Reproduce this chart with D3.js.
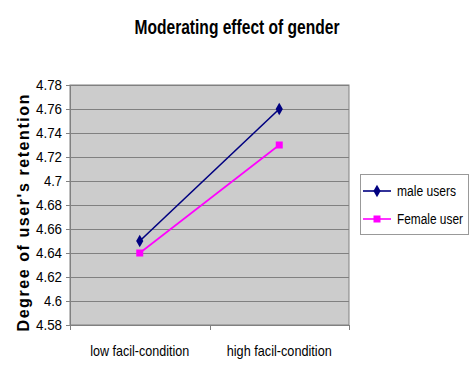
<!DOCTYPE html>
<html><head><meta charset="utf-8">
<script src="https://cdn.jsdelivr.net/npm/d3@7"></script>
<style>
body{margin:0;background:#fff;}
text{font-family:"Liberation Sans",Arial,sans-serif;}
</style></head>
<body><svg id="c" width="474" height="382"></svg>
<script>
const categories = ["low facil-condition", "high facil-condition"];
const maleUsers = [4.65, 4.76];
const femaleUser = [4.64, 4.73];
const yTicks = [4.58, 4.6, 4.62, 4.64, 4.66, 4.68, 4.7, 4.72, 4.74, 4.76, 4.78];
const seriesNames = ["male users", "Female user"];

const svg = d3.select("#c");
const L = 70, R = 349, T = 85, B = 325;
const x = d3.scaleBand().domain(categories).range([L, R]);
const y = d3.scaleLinear().domain([4.58, 4.78]).range([B, T]);

svg.append("rect").attr("x", L).attr("y", T).attr("width", R - L).attr("height", B - T)
  .attr("fill", "#cccccc").attr("stroke", "#808080").attr("stroke-width", 1);

svg.append("g").selectAll("line").data(yTicks).join("line")
  .attr("x1", L).attr("x2", R)
  .attr("y1", d => Math.round(y(d)) + 0.5).attr("y2", d => Math.round(y(d)) + 0.5)
  .attr("stroke", "#808080").attr("stroke-width", 1);

const ya = svg.append("g").attr("transform", `translate(${L},0)`)
  .call(d3.axisLeft(y).tickValues(yTicks).tickSize(4).tickPadding(4).tickFormat(d => String(+d.toFixed(2))));
ya.select(".domain").attr("stroke", "#808080");
ya.selectAll(".tick line").attr("stroke", "#808080");
ya.selectAll("text").attr("font-size", 15).attr("fill", "#000")
  .attr("font-family", '"Liberation Sans",Arial,sans-serif')
  .each(function(d){ const t = String(+d.toFixed(2)); d3.select(this).attr("textLength", t.length === 4 ? 26 : 18).attr("lengthAdjust", "spacingAndGlyphs"); });

const xa = svg.append("g").attr("transform", `translate(0,${B})`)
  .call(d3.axisBottom(x).tickSize(0).tickPadding(20));
xa.select(".domain").remove();
xa.selectAll("text").attr("font-size", 15).attr("fill", "#000")
  .attr("font-family", '"Liberation Sans",Arial,sans-serif')
  .attr("textLength", (d, i) => i === 0 ? 99 : 105).attr("lengthAdjust", "spacingAndGlyphs");
svg.append("g").selectAll("line").data([L, (L + R) / 2, R]).join("line")
  .attr("x1", d => Math.round(d) + 0.5).attr("x2", d => Math.round(d) + 0.5)
  .attr("y1", B).attr("y2", B + 5).attr("stroke", "#808080");

const cx = d => x(d) + x.bandwidth() / 2;
const line = d3.line().x(d => cx(d.c)).y(d => y(d.v));
const mData = categories.map((c, i) => ({c, v: maleUsers[i]}));
const fData = categories.map((c, i) => ({c, v: femaleUser[i]}));

svg.append("path").datum(mData).attr("d", line).attr("fill", "none").attr("stroke", "#000080").attr("stroke-width", 1.6);
svg.append("path").datum(fData).attr("d", line).attr("fill", "none").attr("stroke", "#ff00ff").attr("stroke-width", 1.6);

const diamond = d3.symbol().type(d3.symbolDiamond).size(45);
svg.append("g").selectAll("path").data(mData).join("path")
  .attr("d", diamond).attr("transform", d => `translate(${cx(d.c)},${y(d.v)})`).attr("fill", "#000080");
svg.append("g").selectAll("rect").data(fData).join("rect")
  .attr("x", d => cx(d.c) - 3.5).attr("y", d => y(d.v) - 3.5).attr("width", 7).attr("height", 7).attr("fill", "#ff00ff");

// title
svg.append("text").attr("x", 237).attr("y", 34).attr("text-anchor", "middle")
  .attr("font-size", 21).attr("font-weight", "bold")
  .attr("textLength", 205).attr("lengthAdjust", "spacingAndGlyphs")
  .text("Moderating effect of gender");

// y label
svg.append("text").attr("transform", "translate(29,213) rotate(-90)").attr("text-anchor", "middle")
  .attr("font-size", 16).attr("font-weight", "bold")
  .attr("textLength", 237).attr("lengthAdjust", "spacing")
  .text("Degree of user's retention");

// legend
const lg = svg.append("g");
lg.append("rect").attr("x", 360.5).attr("y", 174.5).attr("width", 108).attr("height", 60)
  .attr("fill", "#fff").attr("stroke", "#999");
const ly = [191, 219];
const colors = ["#000080", "#ff00ff"];
const lw = [59, 66];
seriesNames.forEach((n, i) => {
  lg.append("line").attr("x1", 363).attr("x2", 391).attr("y1", ly[i]).attr("y2", ly[i])
    .attr("stroke", colors[i]).attr("stroke-width", 1.6);
  if (i === 0) lg.append("path").attr("d", diamond).attr("transform", `translate(377,${ly[i]})`).attr("fill", colors[i]);
  else lg.append("rect").attr("x", 373.5).attr("y", ly[i] - 3.5).attr("width", 7).attr("height", 7).attr("fill", colors[i]);
  const t = lg.append("text").attr("x", 0).attr("y", 0).attr("font-size", 15).text(n);
  const nat = t.node().getComputedTextLength();
  t.attr("transform", `translate(397,${ly[i] + 5}) scale(${lw[i] / nat},1)`);
});
</script></body></html>
